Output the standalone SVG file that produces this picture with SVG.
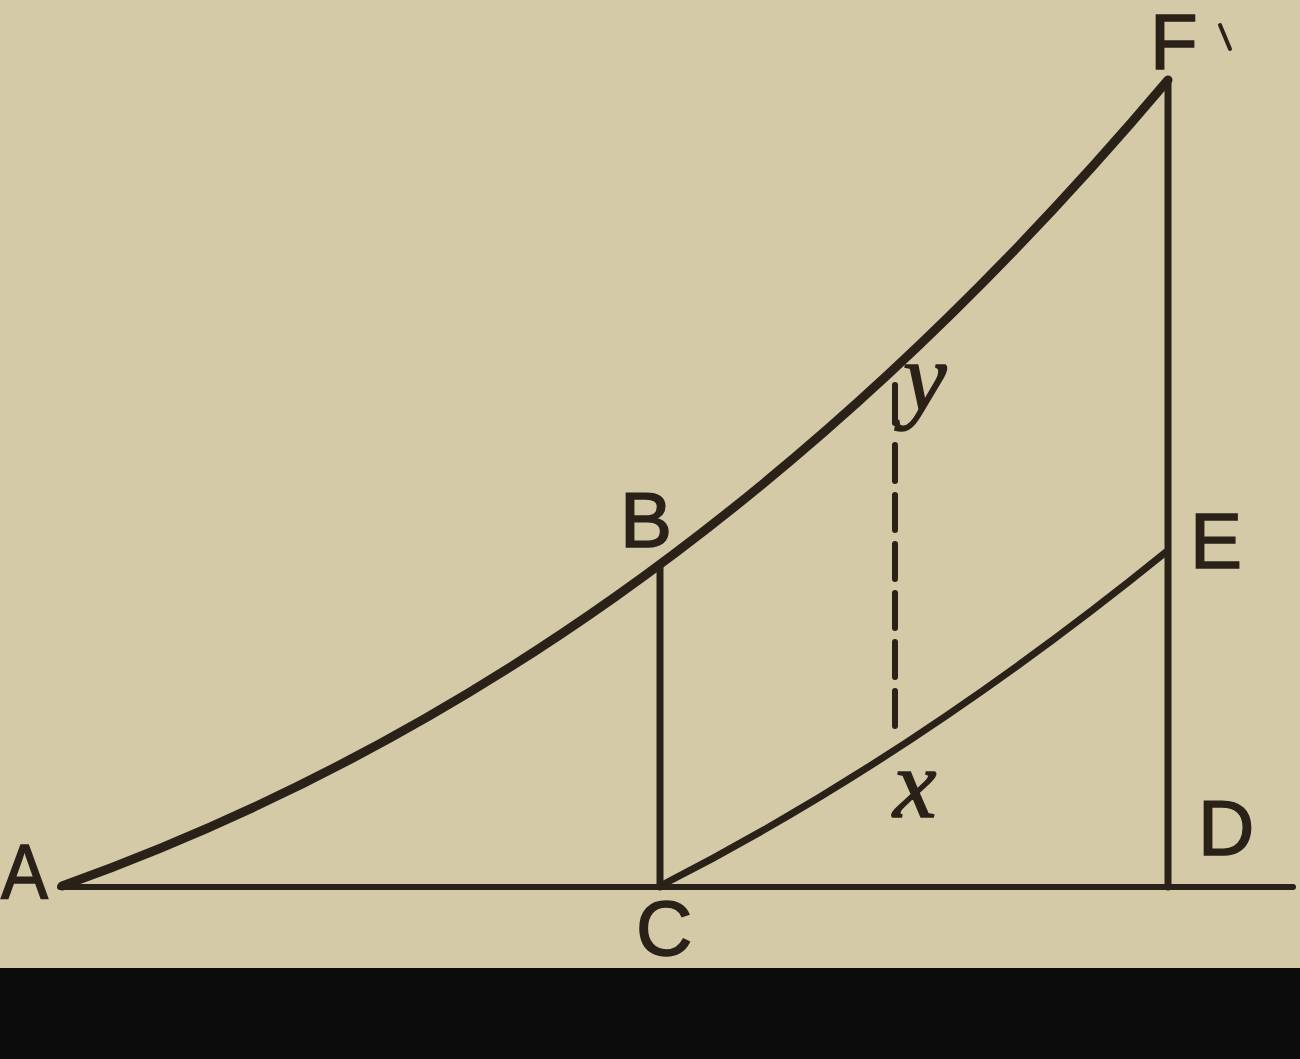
<svg xmlns="http://www.w3.org/2000/svg" width="1300" height="1059" viewBox="0 0 1300 1059">
  <style>
    .ln { fill: none; stroke: #2a2219; stroke-linecap: round; stroke-linejoin: round; }
    .lbl { font-family: "Liberation Sans", Arial, sans-serif; font-size: 78px; fill: #2a2219; stroke: #2a2219; stroke-width: 1.5px; }
    .var { font-family: "Liberation Serif", "Times New Roman", serif; font-style: italic; font-size: 98px; fill: #2a2219; stroke: #2a2219; stroke-width: 1.5px; }
  </style>
  <rect x="0" y="0" width="1300" height="968" fill="#d5caa7"/>
  <rect x="0" y="968" width="1300" height="91" fill="#0c0c0c"/>

  <g id="connectors">
    <line class="ln" x1="60" y1="887" x2="1293" y2="887" stroke-width="6"/>
    <path id="curve-AF" class="ln" stroke-width="9" d="M62,886 C430.7,754 799.3,516 1168,80"/>
    <path id="curve-CE" class="ln" stroke-width="7" d="M662,885 Q913,757 1166,552"/>
    <line id="BC" class="ln" x1="660" y1="566" x2="660" y2="887" stroke-width="7"/>
    <line id="FD" class="ln" x1="1168" y1="80" x2="1168" y2="887" stroke-width="7"/>
    <line id="xy" class="ln" x1="895" y1="385" x2="895" y2="733" stroke-width="6" stroke-linecap="butt" stroke-dasharray="38,22,36,14,35,14,35,14,35,14,35,14,35,14"/>
    <line class="ln" x1="1220" y1="25" x2="1230" y2="49" stroke-width="4"/>
  </g>

  <g id="node-A"><text class="lbl" x="1" y="899" textLength="47" lengthAdjust="spacingAndGlyphs">A</text></g>
  <g id="node-B"><text class="lbl" x="620" y="547">B</text></g>
  <g id="node-C"><text class="lbl" x="636" y="955">C</text></g>
  <g id="node-D"><text class="lbl" x="1198" y="855">D</text></g>
  <g id="node-E"><text class="lbl" x="1190" y="568">E</text></g>
  <g id="node-F"><text class="lbl" x="1150" y="69" font-size="72">F</text></g>
  <g id="node-y"><text class="var" x="903" y="410">y</text></g>
  <g id="node-x"><text class="var" x="893" y="817">x</text></g>
</svg>
